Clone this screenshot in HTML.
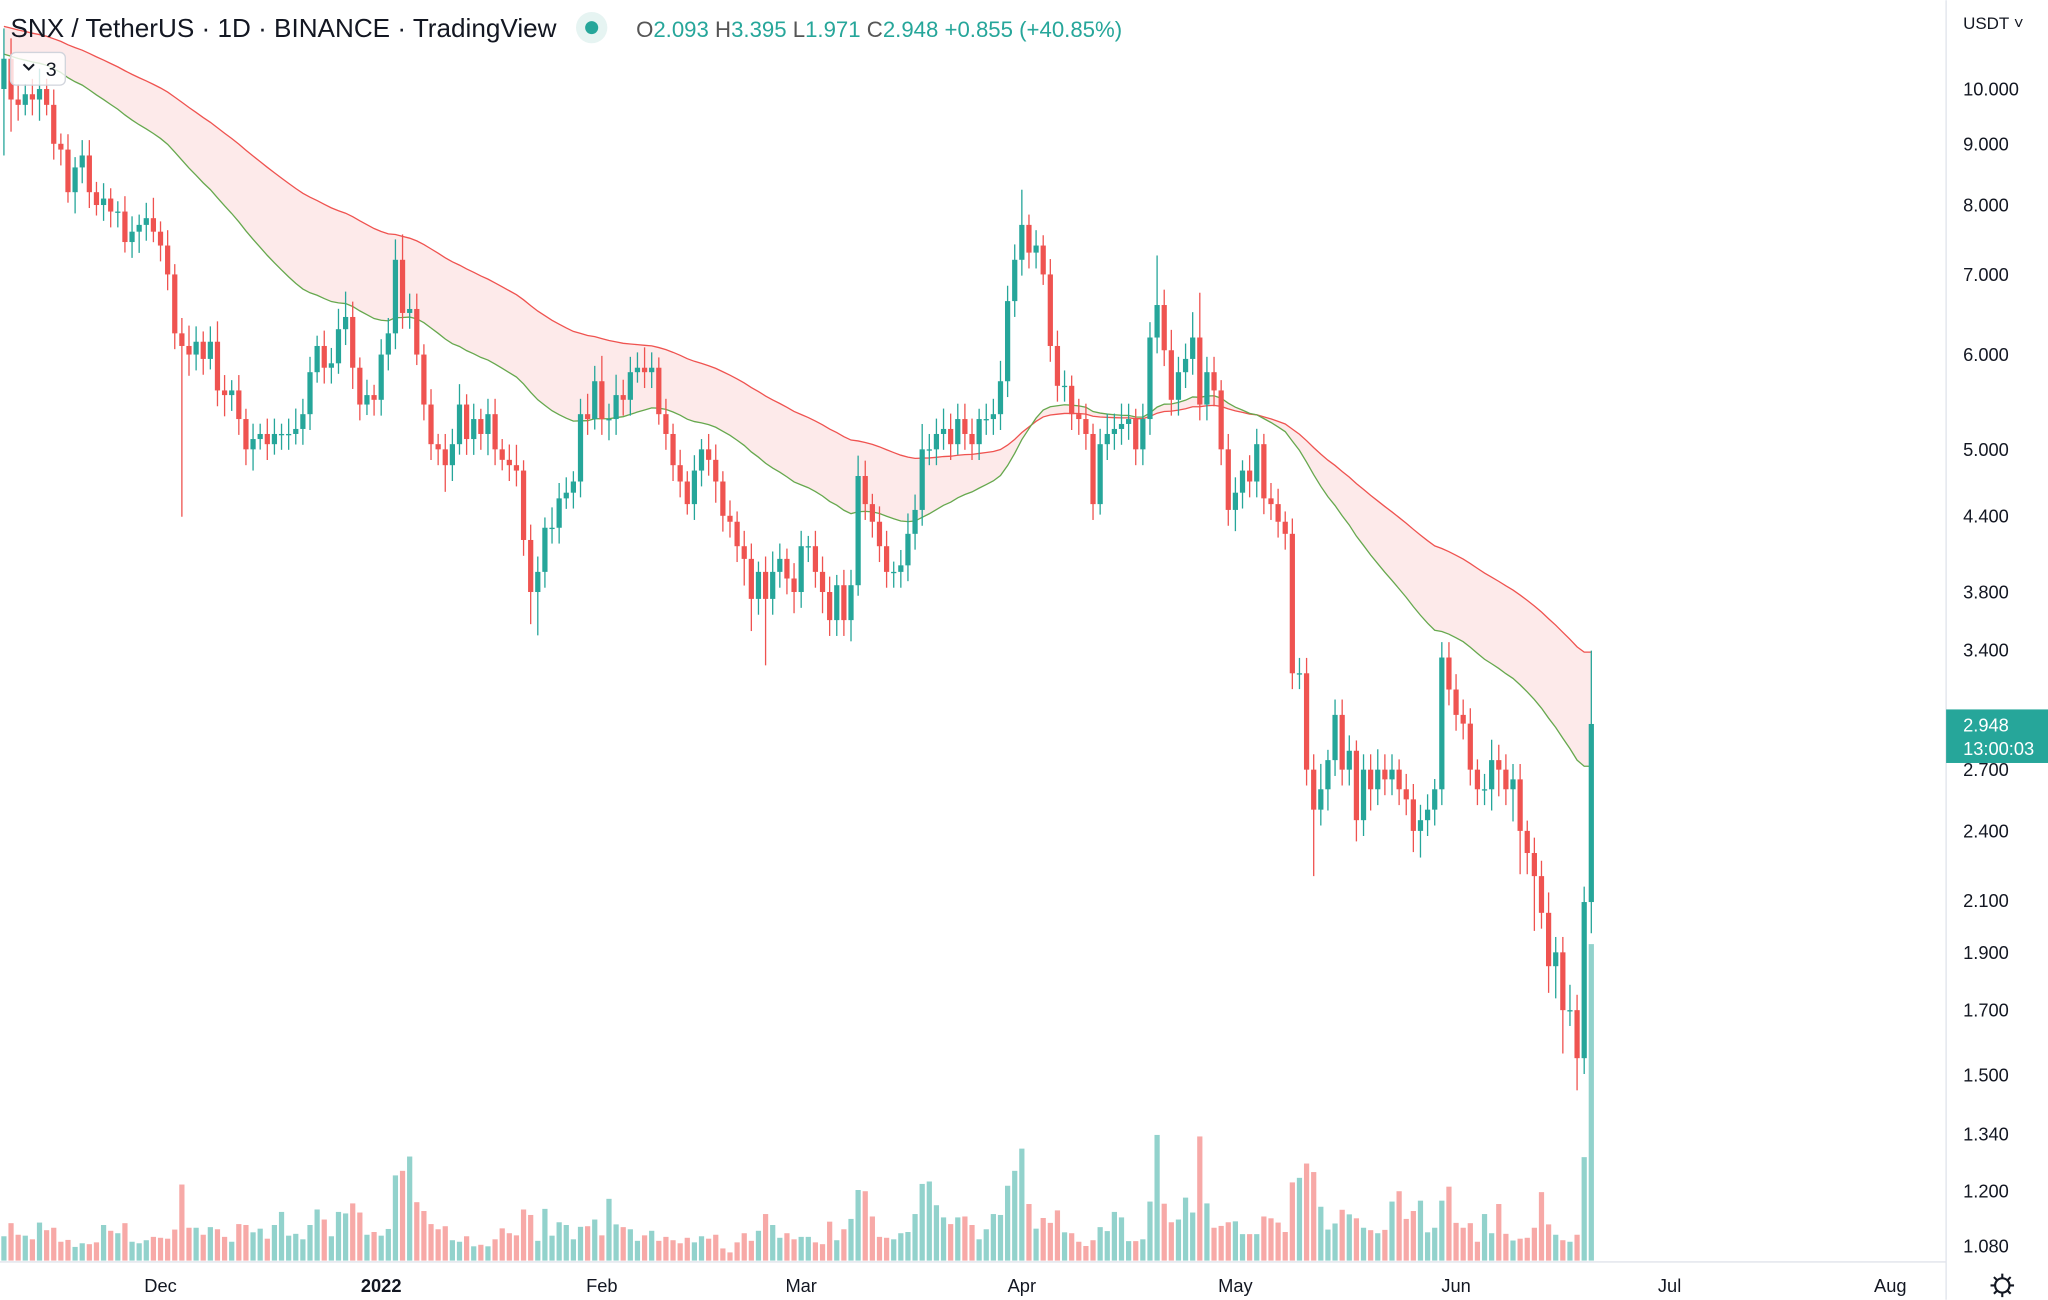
<!DOCTYPE html>
<html><head><meta charset="utf-8"><title>SNX / TetherUS</title>
<style>
html,body{margin:0;padding:0;background:#fff;}
svg{display:block;font-family:"Liberation Sans",sans-serif;}
</style></head>
<body>
<svg id="chart" width="2048" height="1300" viewBox="0 0 1568 995" xmlns="http://www.w3.org/2000/svg">
  <rect x="0" y="0" width="1568" height="995" fill="#ffffff"/>
  <g id="band"></g>
  <g id="vol"></g>
  <g id="candles"></g>
  <line x1="1490" y1="0" x2="1490" y2="995" stroke="#e0e3eb" stroke-width="1"/>
  <line x1="0" y1="966" x2="1490" y2="966" stroke="#e0e3eb" stroke-width="1"/>
  <g id="yticks" font-size="14" fill="#131722"></g>
  <g id="xticks" font-size="14" fill="#131722"></g>
  <text x="1503" y="22" font-size="13" fill="#131722">USDT ˅</text>
  <g>
    <rect x="1490" y="543" width="78" height="41" fill="#26a69a"/>
    <text x="1503" y="560" font-size="14" fill="#fff">2.948</text>
    <text x="1503" y="578" font-size="14" fill="#fff">13:00:03</text>
  </g>
  <g transform="translate(1533,984)">
    <circle r="5.5" fill="none" stroke="#131722" stroke-width="1.6"/>
    <path d="M0,-9V-6M0,9V6M-9,0H-6M9,0H6M-6.4,-6.4L-4.2,-4.2M6.4,6.4L4.2,4.2M-6.4,6.4L-4.2,4.2M6.4,-6.4L4.2,-4.2" stroke="#131722" stroke-width="1.6"/>
  </g>
  <text x="8" y="28" font-size="20" fill="#131722">SNX / TetherUS · 1D · BINANCE · TradingView</text>
  <circle cx="453" cy="21" r="12" fill="#e6f4f2"/>
  <circle cx="453" cy="21" r="5" fill="#26a69a"/>
  <text x="487" y="28" font-size="17" fill="#26a69a"><tspan fill="#555">O</tspan>2.093 <tspan fill="#555">H</tspan>3.395 <tspan fill="#555">L</tspan>1.971 <tspan fill="#555">C</tspan>2.948 +0.855 (+40.85%)</text>
  <g>
    <rect x="8" y="40" width="42" height="25" rx="4" fill="rgba(255,255,255,0.8)" stroke="#d1d4dc"/>
    <path d="M18,49 L22,53 L26,49" fill="none" stroke="#131722" stroke-width="1.6"/>
    <text x="35" y="58" font-size="15" fill="#131722">3</text>
  </g>
</svg>
<script>
const closes=[10.6,9.8,9.7,9.9,9.8,10.0,9.7,9.0,8.9,8.2,8.6,8.8,8.2,8.0,8.1,7.9,7.9,7.45,7.6,7.7,7.8,7.6,7.4,7.0,6.25,6.1,6.0,6.15,5.95,6.15,5.6,5.55,5.6,5.3,5.0,5.1,5.15,5.05,5.15,5.15,5.15,5.2,5.35,5.8,6.1,5.85,5.9,6.3,6.45,5.85,5.45,5.55,5.5,6.0,6.25,7.2,6.5,6.55,6.0,5.45,5.05,5.0,4.85,5.05,5.45,5.1,5.3,5.15,5.35,5.0,4.9,4.85,4.8,4.2,3.8,3.95,4.3,4.3,4.55,4.6,4.7,5.35,5.3,5.7,5.3,5.3,5.55,5.5,5.8,5.85,5.8,5.85,5.35,5.15,4.85,4.7,4.5,4.8,5.0,4.9,4.7,4.4,4.35,4.15,4.05,3.75,3.95,3.75,3.95,4.05,3.9,3.8,4.15,4.15,3.95,3.8,3.6,3.85,3.6,3.85,4.75,4.5,4.35,4.15,3.95,3.95,4.0,4.25,4.45,5.0,5.0,5.15,5.2,5.05,5.3,5.15,5.05,5.3,5.3,5.35,5.7,6.65,7.2,7.7,7.3,7.4,7.0,6.1,5.65,5.65,5.35,5.3,5.15,4.5,5.05,5.15,5.2,5.25,5.3,5.0,5.3,6.2,6.6,6.05,5.5,5.8,5.95,6.2,5.45,5.8,5.6,5.0,4.45,4.6,4.8,4.7,5.05,4.55,4.5,4.35,4.25,3.25,3.25,2.7,2.5,2.6,2.75,3.0,2.7,2.8,2.45,2.7,2.6,2.7,2.65,2.7,2.6,2.55,2.4,2.45,2.5,2.6,3.35,3.15,3.0,2.95,2.7,2.6,2.6,2.75,2.7,2.6,2.65,2.4,2.3,2.2,2.05,1.85,1.9,1.7,1.7,1.55,2.093,2.948];
const firstOpen=10.0;
const hiPct=[6,4,3,2,3,4,2,3,2,3,2,3,3,2,3,2,2,3,3,2,3,4,2,3,2,3,4,3,2,3,4,3,2,3,2,3,2,3,3,2,3,4,3,3,2,3,3,4,5,3,2,3,2,3,3,4,5,3,3,2,3,2,3,3,4,2,3,2,3,3,2,3,4,2,3,3,2,4,3,3,2,3,4,3,5,3,4,3,3,3,4,3,2,3,2,3,2,3,2,3,3,2,3,2,3,3,2,3,4,3,2,3,3,2,3,3,3,2,3,3,4,3,2,3,3,2,3,4,3,5,3,3,4,3,3,3,3,2,3,3,4,3,3,7,2,3,2,3,3,3,2,3,3,2,3,4,3,4,3,2,3,3,10,3,4,3,3,5,9,3,3,2,3,3,2,3,3,2,3,3,2,3,3,3,3,5,2,3,3,3,2,3,3,4,3,3,2,3,3,3,3,2,3,3,3,3,3,2,3,4,3,3,3,3,2,3,3,4,3,3,5,3,3,6,6,15];
const loPct=[12,6,3,2,3,4,2,3,3,2,4,3,3,2,3,3,3,2,3,4,3,2,3,3,3,28,4,3,3,2,3,4,3,3,3,4,2,3,2,3,3,2,3,3,2,3,3,2,3,4,3,2,3,3,3,3,3,3,2,3,3,3,5,3,2,3,3,3,4,3,2,3,3,3,6,8,3,3,3,2,3,3,3,2,3,4,3,3,3,2,3,3,2,3,3,3,2,3,3,3,4,3,3,3,5,6,3,12,3,3,3,4,3,3,3,4,3,3,3,4,2,3,3,3,3,3,3,3,3,3,3,3,3,3,2,3,3,3,3,3,3,3,3,3,3,3,2,3,3,3,3,3,3,3,2,3,3,3,3,3,3,3,3,3,3,3,3,3,3,3,3,3,3,4,3,3,3,3,3,3,3,3,3,3,12,3,4,3,3,3,4,3,4,3,3,3,3,3,4,5,3,3,3,3,3,3,3,3,3,4,5,3,6,8,4,10,3,5,6,8,3,6];
const volumes=[80,123,85,82,70,125,100,108,62,68,45,57,54,60,117,98,90,123,62,57,67,78,75,72,102,250,108,108,85,110,103,78,62,120,117,93,105,72,117,160,82,88,70,117,168,135,80,160,155,188,158,85,94,82,104,280,295,342,192,163,120,103,113,67,62,80,47,52,47,70,106,90,83,168,150,65,170,82,126,117,70,111,113,135,83,203,119,110,103,65,83,98,65,78,67,57,75,60,80,72,85,40,27,60,90,65,98,153,117,75,90,70,78,78,60,54,128,67,103,137,232,228,145,78,75,70,90,94,153,252,260,182,142,120,142,145,117,70,103,153,150,246,295,368,186,105,140,124,165,93,90,62,48,67,110,97,160,142,64,64,70,194,413,187,126,135,207,158,408,188,108,114,126,129,87,87,87,145,139,125,94,257,272,319,291,177,102,122,167,152,139,108,100,90,101,194,228,137,163,197,93,108,197,243,124,108,123,62,153,90,186,88,66,72,75,108,225,119,85,67,62,85,340,1040];
const yTickLabels=["10.000","9.000","8.000","7.000","6.000","5.000","4.400","3.800","3.400","2.700","2.400","2.100","1.900","1.700","1.500","1.340","1.200","1.080"];
const yTickValues=[10,9,8,7,6,5,4.4,3.8,3.4,2.7,2.4,2.1,1.9,1.7,1.5,1.34,1.2,1.08];
const xTickLabels=["Dec","2022","Feb","Mar","Apr","May","Jun","Jul","Aug"];
const xTickDays=[22,53,84,112,143,173,204,234,265];

const NS="http://www.w3.org/2000/svg";
const X0=3, DX=5.45;
function xScale(i){return X0+DX*i;}
function yScale(p){return 68+(Math.log(10)-Math.log(p))*398;}
function vScale(v){return v*0.233;}
function el(tag,attrs,parent){const e=document.createElementNS(NS,tag);for(const k in attrs)e.setAttribute(k,attrs[k]);parent.appendChild(e);return e;}

const UP="#26a69a",DN="#ef5350";
const opens=closes.map((c,i)=>i===0?firstOpen:closes[i-1]);
const candles=document.getElementById('candles');
const vol=document.getElementById('vol');
closes.forEach((c,i)=>{
  const o=opens[i];
  const up=c>=o;
  const col=up?UP:DN;
  const hp=(hiPct[i]!==undefined)?hiPct[i]:3, lp=(loPct[i]!==undefined)?loPct[i]:3;
  let h=Math.max(o,c)*(1+hp/100), l=Math.min(o,c)*(1-lp/100);
  if(i===closes.length-1){h=3.395;l=1.971;}
  const x=xScale(i);
  const v=volumes[i]||0;
  const vb=el('rect',{x:x-2,y:965-vScale(v),width:4,height:vScale(v),fill:up?"#92d2cc":"#f7a9a7"},vol);
  
  
  const w=el('line',{x1:x,x2:x,y1:yScale(h),y2:yScale(l),stroke:col,'stroke-width':1},candles);
  
  
  const top=yScale(Math.max(o,c)),bot=yScale(Math.min(o,c));
  const b=el('rect',{x:x-2,y:top,width:4,height:Math.max(1,bot-top),fill:col},candles);
  
  
});

// EMA band
function ema(period,seed){let e=seed;const out=[];const k=2/(period+1);closes.forEach((c,i)=>{if(i<closes.length-1)e=e+k*(c-e);out.push(e);});return out;}
const slow=ema(76,11.3), fast=ema(40,10.7);
const band=document.getElementById('band');
let fillD="M"+closes.map((_,i)=>xScale(i)+","+yScale(slow[i])).join(" L");
for(let i=closes.length-1;i>=0;i--)fillD+=" L"+xScale(i)+","+yScale(fast[i]);
const f=el('path',{d:fillD+"Z",fill:"rgba(239,83,80,0.12)"},band);


const ls=el('path',{d:"M"+closes.map((_,i)=>xScale(i)+","+yScale(slow[i])).join(" L"),fill:"none",stroke:"#ef5350","stroke-width":1},band);


const lf=el('path',{d:"M"+closes.map((_,i)=>xScale(i)+","+yScale(fast[i])).join(" L"),fill:"none",stroke:"#66a84e","stroke-width":1},band);



const yt=document.getElementById('yticks');
yTickValues.forEach((v,i)=>{
  const t=el('text',{x:1503,y:yScale(v)+5},yt);
  t.textContent=yTickLabels[i];
  
  
});
const xt=document.getElementById('xticks');
xTickDays.forEach((d,i)=>{
  const t=el('text',{x:xScale(d),y:989,'text-anchor':'middle'},xt);
  if(xTickLabels[i]==="2022")t.setAttribute('font-weight','bold');
  t.textContent=xTickLabels[i];
  
  
});
</script>
</body></html>
